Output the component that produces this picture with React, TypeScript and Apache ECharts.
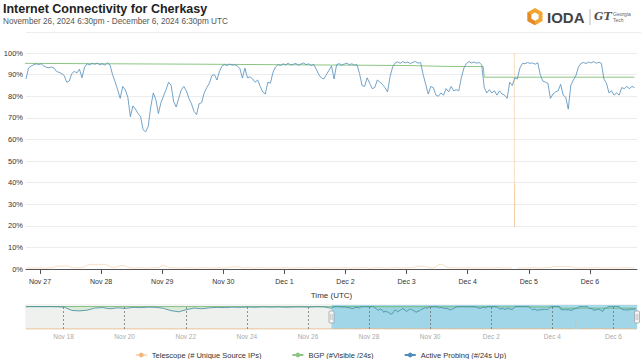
import React, { useEffect, useRef } from "react";
import * as echarts from "echarts";

const W = 641;
const H = 359;
const HOUR = 3600000;
const START = Date.UTC(2024, 10, 26, 18, 30);
const END = Date.UTC(2024, 11, 6, 18, 30);
const NAV_START = Date.UTC(2024, 10, 16, 18, 30);

const TITLE = "Internet Connectivity for Cherkasy";
const SUBTITLE = "November 26, 2024 6:30pm - December 6, 2024 6:30pm UTC";
const NAME_TELE = "Telescope (# Unique Source IPs)";
const NAME_BGP = "BGP (#Visible /24s)";
const NAME_AP = "Active Probing (#/24s Up)";

const mainTickLabels = ["Nov 27", "Nov 28", "Nov 29", "Nov 30", "Dec 1", "Dec 2", "Dec 3", "Dec 4", "Dec 5", "Dec 6"];
const mainTickDates = [[10, 27], [10, 28], [10, 29], [10, 30], [11, 1], [11, 2], [11, 3], [11, 4], [11, 5], [11, 6]];
const navTickLabels = ["Nov 18", "Nov 20", "Nov 22", "Nov 24", "Nov 26", "Nov 28", "Nov 30", "Dec 2", "Dec 4", "Dec 6"];
const navTickDates = [[10, 18], [10, 20], [10, 22], [10, 24], [10, 26], [10, 28], [10, 30], [11, 2], [11, 4], [11, 6]];

// Active probing, hourly from Nov 26 18:30 UTC (percent)
const probing: (number | null)[] = [
  88, 93, 94, 94.5, 95, 94.6, 95, 94, 93.4, 93.2,
  93.5, 93, 91.5, 91, 90.5, 89.5, 86.5, 87, 90.5, 91.5,
  90.8, 92.5, 88.5, 93.5, 95, 94.5, 95.2, 94.8, 95.3, 94.6,
  95, 94.4, 95.4, 94.5, 90, 86.7, 83, 79, 84.5, 83,
  79.5, 70.5, 75.5, 74, 72, 70.5, 64.5, 63.5, 66, 75,
  81.5, 78.5, 72, 77, 80, 83, 86.5, 85, 77.5, 75,
  79, 83, 84.5, 82.5, 79, 76.5, 73, 71.5, 76.5, 77,
  81.5, 84, 86, 89.5, 90, 87.5, 91.5, 94, 94.6, 94.2,
  94.8, 94.3, 94.6, 94, 92.8, 88.4, 93, 88.5, 89, 88,
  86.5, 87.5, 84.5, 82, 81, 86.5, 86, 91, 93.5, 94.6,
  94.2, 95, 94.5, 95.3, 94.4, 94.8, 95.2, 94.3, 94.9, 95.4,
  94.6, 95, 94.2, 94.7, 92.5, 90, 88.5, 88, 90, 92,
  94, 88, 94.5, 95.1, 94.4, 94.9, 95.3, 94.6, 95, 94.4,
  94.6, 90.5, 85, 84.5, 88.5, 86, 83.5, 84, 87.5, 86.5,
  85.5, 84, 82, 89, 93.5, 95.4, 95.9, 95.2, 96, 95.5,
  95.8, 95.1, 95.7, 96.1, 95.3, 95.6, 90, 85.5, 81, 84.5,
  84, 80.5, 80, 81.5, 80.5, 83.5, 82, 84.5, 82.5, 83,
  82.5, 88.5, 93, 95.2, 96, 95.4, 95.8, 95.3, 95.6, 94.5,
  84, 81.5, 83, 81.5, 82.5, 80.5, 82.5, 81, 80.5, 79,
  86.5, 85, 88.5, 88, 93, 95.2, 95, 95.6, 95.2, 95.4,
  94.8, 95.5, 90, 87, 86.5, 86, 79, 81, 82, 82.5,
  85.5, 80.5, 79.5, 74, 85, 87.5, 89.5, 93.5, 95.2, 95.6,
  95.1, 95.8, 95.4, 96, 95.3, 95.7, 95.2, 88, 86, 81.5,
  82.5, 80.5, 81.5, 80.5, 84, 83.5, 84.5, 83.5, 84.5, 84,
  null,
];

// Telescope, hourly (percent); gap where the spike sits
const telescope: (number | null)[] = [
  0.4, 0.5, 0.3, 0.5, 0.4, 0.6, 0.4, 0.5, 0.3, 0.5,
  0.6, 0.8, 1.3, 1.4, 1.2, 1.3, 1.4, 1.1, 0.7, 0.5,
  0.6, 0.5, 0.7, 0.9, 1.8, 2.1, 2.2, 2.0, 2.2, 2.1,
  2.0, 2.2, 1.9, 1.2, 0.6, 0.8, 1.0, 1.5, 1.6, 1.4,
  0.8, 0.5, 0.6, 0.4, 0.7, 0.5, 0.6, 0.4, 0.5, 0.6,
  0.5, 0.7, 0.6, 1.3, 1.5, 1.4, 0.8, 0.5, 0.6, 0.4,
  0.5, 0.6, 0.4, 0.7, 0.5, 0.6, 0.5, 0.4, 0.6, 0.5,
  0.7, 0.5, 0.6, 0.4, 0.5, 0.6, 0.7, 0.5, 0.4, 0.6,
  0.8, 1.0, 1.1, 0.9, 1.0, 0.6, 0.5, 0.7, 0.6, 0.5,
  0.4, 0.6, 0.5, 0.7, 0.5, 0.6, 0.4, 0.5, 0.6, 0.5,
  0.6, 0.5, 0.7, 0.6, 0.5, 0.4, 0.6, 0.5, 0.7, 0.6,
  0.5, 0.6, 0.4, 0.5, 0.7, 0.6, 0.5, 0.4, 0.6, 0.5,
  0.6, 0.5, 0.4, 0.6, 0.5, 0.7, 0.6, 0.5, 0.4, 0.6,
  0.5, 0.6, 0.7, 0.5, 0.6, 0.4, 0.5, 0.6, 0.7, 0.5,
  0.6, 0.4, 0.5, 0.6, 0.5, 0.7, 0.6, 0.5, 0.6, 0.5,
  0.7, 0.6, 0.8, 1.0, 1.3, 1.2, 1.4, 1.1, 0.7, 0.5,
  0.6, 0.8, 2.0, 2.2, 1.8, 0.9, 0.6, 0.5, 0.7, 0.6,
  0.5, 0.6, 0.4, 0.5, 0.7, 0.6, 0.5, 0.4, 0.6, 0.5,
  0.6, 0.5, 0.4, 0.6, 0.5, 0.7, 0.6, 0.5, 0.4, 0.6,
  0.5, 0.6, null, 0.5, 0.6, 0.4, 0.5, 0.6, 0.5, 0.7,
  0.6, 0.5, 0.4, 0.6, 0.5, 0.7, 0.6, 1.1, 1.2, 1.0,
  1.3, 1.1, 1.2, 1.0, 1.2, 0.8, 0.6, 0.5, 0.4, 0.6,
  0.5, 0.6, 0.4, 0.5, 0.7, 0.6, 0.5, 0.4, 0.6, 0.5,
  0.6, 0.5, 0.4, 0.6, 0.5, 0.7, 0.6, 0.5, 0.6, 0.5,
  null,
];
const TELE_SPIKE_INDEX = 192;
const teleSpikeHours = [191.85, 191.9, 191.95];
const teleSpikeValues = [100, 19.5, 39];
const navSpikeValues = [45, 4, 4];

// BGP change points (hours from Nov 26 18:30 UTC)
const bgpHours = [-240, -120, 0, 70, 150, 165, 179.6, 180, 239];
const bgpValues = [95.6, 95.4, 95.2, 94.8, 94.2, 93.8, 93.7, 88.8, 88.8];

// Navigator-only history before the main window, 6-hour steps from Nov 16 18:30 UTC
const earlyProbing = [
  94.5, 95, 94.6, 95, 94.4, 93, 79, 77, 80, 89,
  91, 86, 90, 87.5, 92, 91, 93, 92, 88, 78,
  73, 82, 89, 86, 90, 92, 91, 93, 92, 93.5,
  92.5, 94, 93, 94, 92.5, 93.5, 94, 93, 94.5, 94,
];
const earlyTelescope = [
  0.5, 0.6, 0.4, 0.5, 0.7, 0.6, 0.5, 0.4, 0.6, 0.5,
  0.6, 0.5, 0.7, 0.6, 0.5, 0.4, 0.6, 0.5, 0.7, 0.6,
  0.5, 0.6, 0.4, 0.5, 0.7, 0.6, 0.5, 0.4, 0.6, 0.5,
  0.6, 0.5, 0.4, 0.6, 0.5, 0.7, 0.6, 0.5, 0.6, 0.5,
];

const COLOR_TELE = "#f2b67a";
const COLOR_BGP = "#8cc584";
const COLOR_AP = "#4f8dbd";
const FONT = "'Liberation Sans', Arial, Helvetica, sans-serif";

const th = (h: number) => START + h * HOUR;
const mainTickTimes = mainTickDates.map(([m, d]) => Date.UTC(2024, m, d));
const navTickTimes = navTickDates.map(([m, d]) => Date.UTC(2024, m, d));

function labelFor(times: number[], labels: string[]) {
  return (v: number) => {
    for (let i = 0; i < times.length; i++) if (Math.abs(times[i] - v) < 60000) return labels[i];
    return "";
  };
}

function buildTele(spikeVals: number[]) {
  const out: any[] = [];
  telescope.forEach((v, i) => {
    if (i === TELE_SPIKE_INDEX) {
      out.push([th(teleSpikeHours[0] - 0.05), null]);
      teleSpikeHours.forEach((h, k) => out.push([th(h), spikeVals[k]]));
    }
    out.push([th(i), v]);
  });
  return out;
}

export default function App() {
  const ref = useRef<HTMLDivElement>(null);
  useEffect(() => {
    if (!ref.current) return;
    const chart = echarts.init(ref.current, null, { renderer: "svg", width: W, height: H });

    const apData = probing.map((v, i) => [th(i), v]);
    const teleData = buildTele(teleSpikeValues);
    const bgpData = bgpHours.map((h, i) => [th(h), bgpValues[i]]);
    const navAp = earlyProbing.map((v, i) => [NAV_START + i * 6 * HOUR, v]).concat(apData);
    const navTele = earlyTelescope.map((v, i) => [NAV_START + i * 6 * HOUR, v]).concat(buildTele(navSpikeValues));

    const header: any[] = [
      { type: "text", left: 3, top: 2, style: { text: TITLE, fontSize: 12.5, fontWeight: "bold", fill: "#222", fontFamily: FONT } },
      { type: "text", left: 3, top: 17, style: { text: SUBTITLE, fontSize: 8.2, fill: "#555", fontFamily: FONT } },
      { type: "line", shape: { x1: 26, y1: 32.5, x2: 641, y2: 32.5 }, style: { stroke: "#ececec", lineWidth: 1 } },
      { type: "polygon", shape: { points: [[535, 8], [542.5, 12.3], [542.5, 21], [535, 25.3], [527.5, 21], [527.5, 12.3]] }, style: { fill: "#f3a530" } },
      { type: "polygon", shape: { points: [[535, 25.3], [527.5, 21], [527.5, 12.3], [535, 16.6]] }, style: { fill: "#e58b25" } },
      { type: "polygon", shape: { points: [[535, 12.6], [538.6, 14.6], [538.6, 18.7], [535, 20.7], [531.4, 18.7], [531.4, 14.6]] }, style: { fill: "#fff" } },
      { type: "text", left: 547, top: 9.5, style: { text: "IODA", fontSize: 15, fontWeight: "bold", fill: "#444", fontFamily: FONT } },
      { type: "line", shape: { x1: 590, y1: 9, x2: 590, y2: 25 }, style: { stroke: "#bbb", lineWidth: 1 } },
      { type: "text", left: 594, top: 11, style: { text: "GT", fontSize: 11, fontWeight: "bold", fontStyle: "italic", fill: "#555", fontFamily: "'DejaVu Serif', serif" } },
      { type: "text", left: 613, top: 11.5, style: { text: "Georgia", fontSize: 5, fill: "#666", fontFamily: FONT } },
      { type: "text", left: 613, top: 17.5, style: { text: "Tech", fontSize: 5, fill: "#666", fontFamily: FONT } },
    ];

    const option: any = {
      animation: false,
      backgroundColor: "#fff",
      textStyle: { fontFamily: FONT },
      graphic: header,
      legend: {
        data: [NAME_TELE, NAME_BGP, NAME_AP],
        left: "center",
        top: 346,
        itemWidth: 11,
        itemHeight: 6,
        itemGap: 30,
        textStyle: { fontSize: 7.5, color: "#333", fontFamily: FONT },
        selectedMode: false,
      },
      grid: [
        { left: 26, right: 4, top: 53, height: 216 },
        { left: 26, right: 4, top: 305, height: 24, show: true, borderColor: "#d6d6d6", borderWidth: 0.6, backgroundColor: "transparent" },
      ],
      xAxis: [
        {
          type: "value", gridIndex: 0, min: START, max: END,
          axisLine: { show: true, lineStyle: { color: "#555", width: 1 } },
          axisTick: { show: true, customValues: mainTickTimes, length: 5, lineStyle: { color: "#555" } },
          axisLabel: { customValues: mainTickTimes, formatter: labelFor(mainTickTimes, mainTickLabels), fontSize: 7, color: "#333", margin: 9 },
          splitLine: { show: false },
          name: "Time (UTC)", nameLocation: "middle", nameGap: 22, nameTextStyle: { fontSize: 8, color: "#333" },
        },
        {
          type: "value", gridIndex: 1, min: NAV_START, max: END,
          axisLine: { show: false },
          axisTick: { show: false, customValues: navTickTimes },
          axisLabel: { customValues: navTickTimes, formatter: labelFor(navTickTimes, navTickLabels), fontSize: 6.5, color: "#aaa", margin: 4 },
          splitLine: { show: false },
        },
      ],
      yAxis: [
        {
          type: "value", gridIndex: 0, min: 0, max: 100, interval: 10,
          axisLine: { show: false }, axisTick: { show: false },
          axisLabel: { formatter: "{value}%", fontSize: 7.5, color: "#333", margin: 3 },
          splitLine: { lineStyle: { color: "#ececec", width: 1 } },
        },
        { type: "value", gridIndex: 1, min: 0, max: 102, show: false, splitLine: { show: false } },
      ],
      series: [
        {
          name: NAME_TELE, type: "line", xAxisIndex: 0, yAxisIndex: 0, data: teleData,
          showSymbol: false, symbol: "circle", symbolSize: 4, z: 2,
          itemStyle: { color: COLOR_TELE }, lineStyle: { color: COLOR_TELE, width: 0.8, opacity: 0.55 },
        },
        {
          name: NAME_BGP, type: "line", xAxisIndex: 0, yAxisIndex: 0, data: bgpData,
          showSymbol: false, symbol: "circle", symbolSize: 4, z: 3,
          itemStyle: { color: COLOR_BGP }, lineStyle: { color: COLOR_BGP, width: 1 },
        },
        {
          name: NAME_AP, type: "line", xAxisIndex: 0, yAxisIndex: 0, data: apData,
          showSymbol: false, symbol: "circle", symbolSize: 4, z: 4,
          itemStyle: { color: COLOR_AP }, lineStyle: { color: COLOR_AP, width: 0.8 },
        },
        // navigator
        {
          name: "nav-bgp-area", type: "line", xAxisIndex: 1, yAxisIndex: 1, data: bgpData, showSymbol: false, silent: true, z: 1,
          lineStyle: { width: 0 }, areaStyle: { color: "#dcebd8", opacity: 1 },
        },
        {
          name: "nav-ap-area", type: "line", xAxisIndex: 1, yAxisIndex: 1, data: navAp, showSymbol: false, silent: true, z: 1,
          lineStyle: { width: 0 }, areaStyle: { color: "#eef1ee", opacity: 1 },
        },
        {
          name: "nav-selection", type: "line", xAxisIndex: 1, yAxisIndex: 1, data: [[START, 102], [END, 102]], showSymbol: false, silent: true, z: 2,
          lineStyle: { width: 0 }, areaStyle: { color: "rgba(110,196,228,0.6)", opacity: 1 },
        },
        {
          name: "nav-tele", type: "line", xAxisIndex: 1, yAxisIndex: 1, data: navTele, showSymbol: false, silent: true, z: 3,
          lineStyle: { color: COLOR_TELE, width: 0.8 },
          markLine: {
            silent: true, symbol: "none", label: { show: false },
            lineStyle: { color: "#666", type: [2, 2], width: 0.7 },
            data: navTickTimes.map((v) => ({ xAxis: v })),
          },
        },
        {
          name: "nav-bgp", type: "line", xAxisIndex: 1, yAxisIndex: 1, data: bgpData, showSymbol: false, silent: true, z: 3,
          lineStyle: { color: "#6db36a", width: 0.8 },
        },
        {
          name: "nav-ap", type: "line", xAxisIndex: 1, yAxisIndex: 1, data: navAp, showSymbol: false, silent: true, z: 3,
          lineStyle: { color: "#3f8a9e", width: 0.8 },
        },
      ],
    };
    chart.setOption(option);

    const handles: any[] = [];
    [START, END].forEach((tv) => {
      const p = chart.convertToPixel({ gridIndex: 1 }, [tv, 51]) as number[];
      if (!p) return;
      const x = Math.min(p[0], W - 4);
      handles.push({ type: "rect", shape: { x: x - 2.5, y: p[1] - 6, width: 5, height: 12, r: 1 }, style: { fill: "#f4f4f4", stroke: "#9a9a9a", lineWidth: 0.7 }, z: 100 });
      handles.push({ type: "line", shape: { x1: x - 0.8, y1: p[1] - 3, x2: x - 0.8, y2: p[1] + 3 }, style: { stroke: "#999", lineWidth: 0.5 }, z: 101 });
      handles.push({ type: "line", shape: { x1: x + 0.8, y1: p[1] - 3, x2: x + 0.8, y2: p[1] + 3 }, style: { stroke: "#999", lineWidth: 0.5 }, z: 101 });
    });
    chart.setOption({ graphic: header.concat(handles) });

    return () => chart.dispose();
  }, []);

  return <div ref={ref} style={{ position: "fixed", left: 0, top: 0, width: W, height: H, background: "#fff" }} />;
}
